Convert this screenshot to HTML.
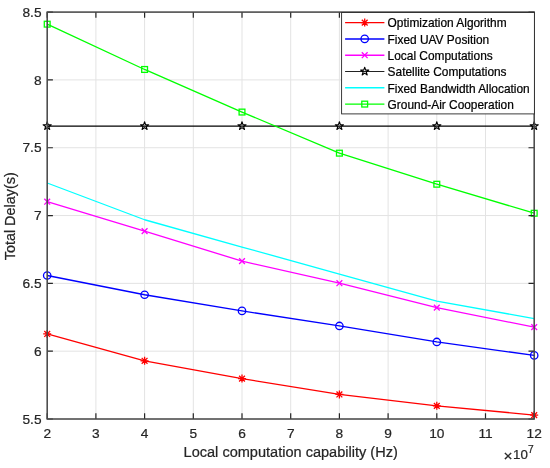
<!DOCTYPE html>
<html><head><meta charset="utf-8"><style>text{stroke-width:0.22px}html,body{margin:0;padding:0;background:#fff;width:550px;height:468px;overflow:hidden}svg{display:block}</style></head>
<body>
<svg width="550" height="468" viewBox="0 0 550 468">
<rect width="550" height="468" fill="#fff"/>
<path d="M47.20 12.10V419.00M95.90 12.10V419.00M144.60 12.10V419.00M193.30 12.10V419.00M242.00 12.10V419.00M290.70 12.10V419.00M339.40 12.10V419.00M388.10 12.10V419.00M436.80 12.10V419.00M485.50 12.10V419.00M534.20 12.10V419.00M47.20 419.00H534.20M47.20 351.18H534.20M47.20 283.37H534.20M47.20 215.55H534.20M47.20 147.73H534.20M47.20 79.92H534.20M47.20 12.10H534.20" stroke="#e3e3e3" stroke-width="1"/>
<polyline points="47.20,333.96 144.60,360.81 242.00,378.58 339.40,394.45 436.80,405.84 534.20,415.07" stroke="#ff0000" stroke-width="1.3" fill="none" stroke-linejoin="round"/>
<path d="M47.20 329.96V337.96M43.20 333.96H51.20M44.30 331.06L50.10 336.86M44.30 336.86L50.10 331.06" stroke="#ff0000" stroke-width="1.3" fill="none"/>
<path d="M144.60 356.81V364.81M140.60 360.81H148.60M141.70 357.91L147.50 363.71M141.70 363.71L147.50 357.91" stroke="#ff0000" stroke-width="1.3" fill="none"/>
<path d="M242.00 374.58V382.58M238.00 378.58H246.00M239.10 375.68L244.90 381.48M239.10 381.48L244.90 375.68" stroke="#ff0000" stroke-width="1.3" fill="none"/>
<path d="M339.40 390.45V398.45M335.40 394.45H343.40M336.50 391.55L342.30 397.35M336.50 397.35L342.30 391.55" stroke="#ff0000" stroke-width="1.3" fill="none"/>
<path d="M436.80 401.84V409.84M432.80 405.84H440.80M433.90 402.94L439.70 408.74M433.90 408.74L439.70 402.94" stroke="#ff0000" stroke-width="1.3" fill="none"/>
<path d="M534.20 411.07V419.07M530.20 415.07H538.20M531.30 412.17L537.10 417.97M531.30 417.97L537.10 412.17" stroke="#ff0000" stroke-width="1.3" fill="none"/>
<polyline points="47.20,275.50 144.60,294.76 242.00,310.90 339.40,325.96 436.80,341.96 534.20,355.39" stroke="#0000ff" stroke-width="1.3" fill="none" stroke-linejoin="round"/>
<circle cx="47.20" cy="275.50" r="3.7" stroke="#0000ff" stroke-width="1.3" fill="none"/>
<circle cx="144.60" cy="294.76" r="3.7" stroke="#0000ff" stroke-width="1.3" fill="none"/>
<circle cx="242.00" cy="310.90" r="3.7" stroke="#0000ff" stroke-width="1.3" fill="none"/>
<circle cx="339.40" cy="325.96" r="3.7" stroke="#0000ff" stroke-width="1.3" fill="none"/>
<circle cx="436.80" cy="341.96" r="3.7" stroke="#0000ff" stroke-width="1.3" fill="none"/>
<circle cx="534.20" cy="355.39" r="3.7" stroke="#0000ff" stroke-width="1.3" fill="none"/>
<polyline points="47.20,201.72 144.60,231.15 242.00,261.12 339.40,283.23 436.80,307.65 534.20,327.18" stroke="#ff00ff" stroke-width="1.3" fill="none" stroke-linejoin="round"/>
<path d="M44.30 198.82L50.10 204.62M44.30 204.62L50.10 198.82" stroke="#ff00ff" stroke-width="1.3" fill="none"/>
<path d="M141.70 228.25L147.50 234.05M141.70 234.05L147.50 228.25" stroke="#ff00ff" stroke-width="1.3" fill="none"/>
<path d="M239.10 258.22L244.90 264.02M239.10 264.02L244.90 258.22" stroke="#ff00ff" stroke-width="1.3" fill="none"/>
<path d="M336.50 280.33L342.30 286.13M336.50 286.13L342.30 280.33" stroke="#ff00ff" stroke-width="1.3" fill="none"/>
<path d="M433.90 304.75L439.70 310.55M433.90 310.55L439.70 304.75" stroke="#ff00ff" stroke-width="1.3" fill="none"/>
<path d="M531.30 324.28L537.10 330.08M531.30 330.08L537.10 324.28" stroke="#ff00ff" stroke-width="1.3" fill="none"/>
<polyline points="47.20,126.03 144.60,126.03 242.00,126.03 339.40,126.03 436.80,126.03 534.20,126.03" stroke="#000000" stroke-width="1.3" fill="none" stroke-linejoin="round"/>
<polygon points="47.20,121.73 48.17,124.70 51.29,124.70 48.76,126.54 49.73,129.51 47.20,127.67 44.67,129.51 45.64,126.54 43.11,124.70 46.23,124.70" stroke="#000000" stroke-width="1.1" fill="none" stroke-linejoin="round"/>
<polygon points="144.60,121.73 145.57,124.70 148.69,124.70 146.16,126.54 147.13,129.51 144.60,127.67 142.07,129.51 143.04,126.54 140.51,124.70 143.63,124.70" stroke="#000000" stroke-width="1.1" fill="none" stroke-linejoin="round"/>
<polygon points="242.00,121.73 242.97,124.70 246.09,124.70 243.56,126.54 244.53,129.51 242.00,127.67 239.47,129.51 240.44,126.54 237.91,124.70 241.03,124.70" stroke="#000000" stroke-width="1.1" fill="none" stroke-linejoin="round"/>
<polygon points="339.40,121.73 340.37,124.70 343.49,124.70 340.96,126.54 341.93,129.51 339.40,127.67 336.87,129.51 337.84,126.54 335.31,124.70 338.43,124.70" stroke="#000000" stroke-width="1.1" fill="none" stroke-linejoin="round"/>
<polygon points="436.80,121.73 437.77,124.70 440.89,124.70 438.36,126.54 439.33,129.51 436.80,127.67 434.27,129.51 435.24,126.54 432.71,124.70 435.83,124.70" stroke="#000000" stroke-width="1.1" fill="none" stroke-linejoin="round"/>
<polygon points="534.20,121.73 535.17,124.70 538.29,124.70 535.76,126.54 536.73,129.51 534.20,127.67 531.67,129.51 532.64,126.54 530.11,124.70 533.23,124.70" stroke="#000000" stroke-width="1.1" fill="none" stroke-linejoin="round"/>
<polyline points="47.20,183.00 144.60,219.75 242.00,247.02 339.40,274.01 436.80,301.13 534.20,318.63" stroke="#00ffff" stroke-width="1.3" fill="none" stroke-linejoin="round"/>
<polyline points="47.20,24.17 144.60,69.47 242.00,112.06 339.40,153.16 436.80,184.22 534.20,213.24" stroke="#00ff00" stroke-width="1.3" fill="none" stroke-linejoin="round"/>
<rect x="44.30" y="21.27" width="5.80" height="5.80" stroke="#00ff00" stroke-width="1.3" fill="none"/>
<rect x="141.70" y="66.57" width="5.80" height="5.80" stroke="#00ff00" stroke-width="1.3" fill="none"/>
<rect x="239.10" y="109.16" width="5.80" height="5.80" stroke="#00ff00" stroke-width="1.3" fill="none"/>
<rect x="336.50" y="150.26" width="5.80" height="5.80" stroke="#00ff00" stroke-width="1.3" fill="none"/>
<rect x="433.90" y="181.32" width="5.80" height="5.80" stroke="#00ff00" stroke-width="1.3" fill="none"/>
<rect x="531.30" y="210.34" width="5.80" height="5.80" stroke="#00ff00" stroke-width="1.3" fill="none"/>
<path d="M47.20 419.00V413.30M47.20 12.10V17.80M95.90 419.00V413.30M95.90 12.10V17.80M144.60 419.00V413.30M144.60 12.10V17.80M193.30 419.00V413.30M193.30 12.10V17.80M242.00 419.00V413.30M242.00 12.10V17.80M290.70 419.00V413.30M290.70 12.10V17.80M339.40 419.00V413.30M339.40 12.10V17.80M388.10 419.00V413.30M388.10 12.10V17.80M436.80 419.00V413.30M436.80 12.10V17.80M485.50 419.00V413.30M485.50 12.10V17.80M534.20 419.00V413.30M534.20 12.10V17.80M47.20 419.00H52.90M534.20 419.00H528.50M47.20 351.18H52.90M534.20 351.18H528.50M47.20 283.37H52.90M534.20 283.37H528.50M47.20 215.55H52.90M534.20 215.55H528.50M47.20 147.73H52.90M534.20 147.73H528.50M47.20 79.92H52.90M534.20 79.92H528.50M47.20 12.10H52.90M534.20 12.10H528.50" stroke="#262626" stroke-width="1.2"/>
<rect x="47.2" y="12.1" width="487.00" height="406.90" stroke="#474747" stroke-width="1.5" fill="none"/>
<g font-family="Liberation Sans, Arial, sans-serif" font-size="13.7" fill="#262626" stroke="#262626">
<text x="47.20" y="438.0" text-anchor="middle">2</text>
<text x="95.90" y="438.0" text-anchor="middle">3</text>
<text x="144.60" y="438.0" text-anchor="middle">4</text>
<text x="193.30" y="438.0" text-anchor="middle">5</text>
<text x="242.00" y="438.0" text-anchor="middle">6</text>
<text x="290.70" y="438.0" text-anchor="middle">7</text>
<text x="339.40" y="438.0" text-anchor="middle">8</text>
<text x="388.10" y="438.0" text-anchor="middle">9</text>
<text x="436.80" y="438.0" text-anchor="middle">10</text>
<text x="485.50" y="438.0" text-anchor="middle">11</text>
<text x="534.20" y="438.0" text-anchor="middle">12</text>
<text x="41.5" y="423.60" text-anchor="end">5.5</text>
<text x="41.5" y="355.78" text-anchor="end">6</text>
<text x="41.5" y="287.97" text-anchor="end">6.5</text>
<text x="41.5" y="220.15" text-anchor="end">7</text>
<text x="41.5" y="152.33" text-anchor="end">7.5</text>
<text x="41.5" y="84.52" text-anchor="end">8</text>
<text x="41.5" y="16.70" text-anchor="end">8.5</text>
</g>
<text x="290.70" y="456.7" text-anchor="middle" font-family="Liberation Sans, Arial, sans-serif" font-size="14.55" fill="#262626" stroke="#262626">Local computation capability (Hz)</text>
<text transform="translate(15.2 216.3) rotate(-90)" text-anchor="middle" font-family="Liberation Sans, Arial, sans-serif" font-size="14.4" fill="#262626" stroke="#262626">Total Delay(s)</text>
<text font-family="Liberation Sans, Arial, sans-serif" fill="#262626" stroke="#262626"><tspan x="503.6" y="460.8" font-size="15.5">×</tspan><tspan x="513.0" y="458.9" font-size="13.3">10</tspan><tspan x="527.9" y="452.7" font-size="10.2">7</tspan></text>
<rect x="341.6" y="12.5" width="192.80" height="101.40" fill="#fff" stroke="#262626" stroke-width="0.9"/>
<path d="M345.1 22.60H384.4" stroke="#ff0000" stroke-width="1.45"/>
<path d="M364.70 18.60V26.60M360.70 22.60H368.70M361.80 19.70L367.60 25.50M361.80 25.50L367.60 19.70" stroke="#ff0000" stroke-width="1.3" fill="none"/>
<text x="387.6" y="27.40" font-family="Liberation Sans, Arial, sans-serif" font-size="11.9" fill="#000" stroke="#000">Optimization Algorithm</text>
<path d="M345.1 38.90H384.4" stroke="#0000ff" stroke-width="1.45"/>
<circle cx="364.70" cy="38.90" r="3.7" stroke="#0000ff" stroke-width="1.3" fill="none"/>
<text x="387.6" y="43.70" font-family="Liberation Sans, Arial, sans-serif" font-size="11.9" fill="#000" stroke="#000">Fixed UAV Position</text>
<path d="M345.1 55.20H384.4" stroke="#ff00ff" stroke-width="1.45"/>
<path d="M361.80 52.30L367.60 58.10M361.80 58.10L367.60 52.30" stroke="#ff00ff" stroke-width="1.3" fill="none"/>
<text x="387.6" y="60.00" font-family="Liberation Sans, Arial, sans-serif" font-size="11.9" fill="#000" stroke="#000">Local Computations</text>
<path d="M345.1 71.50H384.4" stroke="#222" stroke-width="1.0"/>
<polygon points="364.70,67.20 365.67,70.17 368.79,70.17 366.26,72.01 367.23,74.98 364.70,73.14 362.17,74.98 363.14,72.01 360.61,70.17 363.73,70.17" stroke="#000000" stroke-width="1.1" fill="none" stroke-linejoin="round"/>
<text x="387.6" y="76.30" font-family="Liberation Sans, Arial, sans-serif" font-size="11.9" fill="#000" stroke="#000">Satellite Computations</text>
<path d="M345.1 87.80H384.4" stroke="#00ffff" stroke-width="1.45"/>
<text x="387.6" y="92.60" font-family="Liberation Sans, Arial, sans-serif" font-size="11.9" fill="#000" stroke="#000">Fixed Bandwidth Allocation</text>
<path d="M345.1 104.10H384.4" stroke="#00ff00" stroke-width="1.45"/>
<rect x="361.80" y="101.20" width="5.80" height="5.80" stroke="#00ff00" stroke-width="1.3" fill="none"/>
<text x="387.6" y="108.90" font-family="Liberation Sans, Arial, sans-serif" font-size="11.9" fill="#000" stroke="#000">Ground-Air Cooperation</text>
</svg>
</body></html>
